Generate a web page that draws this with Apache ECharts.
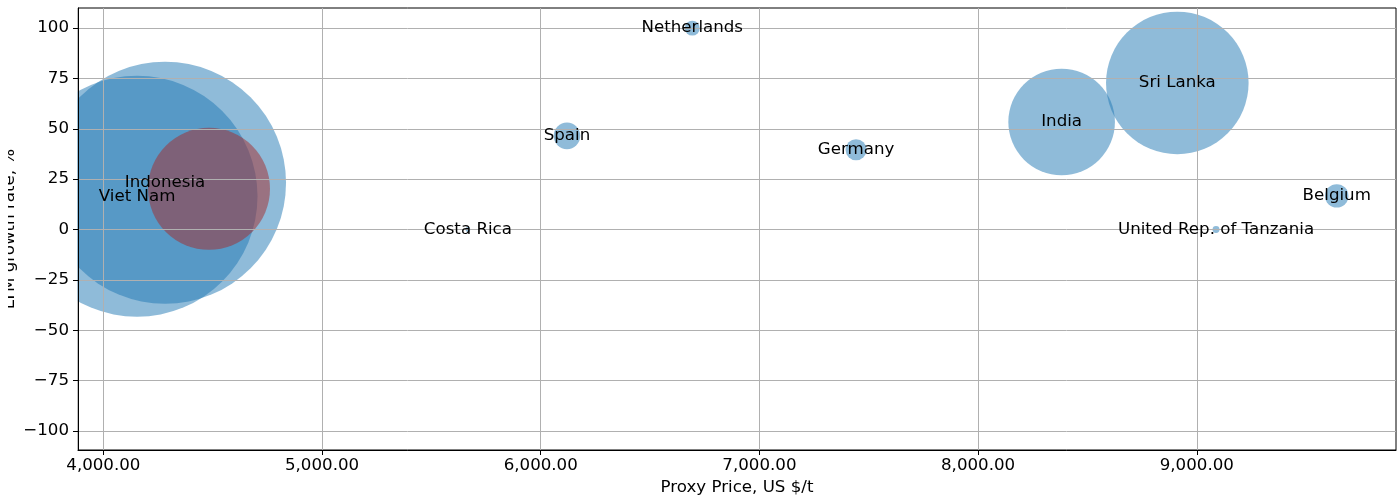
<!DOCTYPE html>
<html>
<head>
<meta charset="utf-8">
<script src="https://cdn.jsdelivr.net/npm/echarts@6/dist/echarts.min.js"></script>
<style>
html,body{margin:0;padding:0;background:#fff;}
#chart{width:1400px;height:497px;}
</style>
</head>
<body>
<div id="chart"></div>
<script>
// ---- data ----
const countries = ["Viet Nam","Indonesia","Costa Rica","Spain","Netherlands","Germany","India","Sri Lanka","United Rep. of Tanzania","Belgium"];
const proxyPrice = [4154, 4282, 5667, 6120, 6693, 7442, 8382, 8911, 9088, 9640];
const growthRate = [16.5, 23.2, 0, 46.5, 100, 39.6, 53.4, 72.8, 0, 16.7];
const bubbleArea = [14520, 14640, 6, 177, 56, 110, 2840, 5080, 12, 137];

const highlightPrice = [4483];
const highlightGrowth = [20.2];
const highlightArea = [3720];

const xTicks = [4000, 5000, 6000, 7000, 8000, 9000];
const yTicks = [-100, -75, -50, -25, 0, 25, 50, 75, 100];

const xName = "Proxy Price, US $/t";
const yName = "LTM growth rate, %";
// ---------------

const FONT = "DejaVu Sans";
const FS = 16.67;
const mainData = countries.map((c, i) => [proxyPrice[i], growthRate[i], bubbleArea[i], c]);
const hlData = highlightPrice.map((p, i) => [p, highlightGrowth[i], highlightArea[i]]);
const sizeFn = v => 2 * Math.sqrt(v[2]);

const chart = echarts.init(document.getElementById('chart'), null, {renderer: 'canvas'});
chart.setOption({
  animation: false,
  backgroundColor: '#fff',
  grid: {left: 78, right: 4, top: 8, bottom: 47, show: true, borderColor: '#000', borderWidth: 1,
         backgroundColor: 'transparent', containLabel: false, outerBoundsMode: 'none'},
  xAxis: {
    type: 'value', min: 3884, max: 9911, z: 20,
    name: xName, nameLocation: 'middle', nameGap: 29, nameMoveOverlap: false,
    nameTextStyle: {fontFamily: FONT, fontSize: FS, color: '#000'},
    axisLine: {show: true, onZero: false, lineStyle: {color: '#000', width: 1}},
    axisTick: {show: true, length: 5, customValues: xTicks, lineStyle: {color: '#000'}},
    axisLabel: {customValues: xTicks, margin: 7, fontFamily: FONT, fontSize: FS, color: '#000',
      formatter: v => v.toLocaleString('en-US', {minimumFractionDigits: 2, maximumFractionDigits: 2})},
    splitLine: {show: true, lineStyle: {color: '#b0b0b0', width: 1}}
  },
  yAxis: {
    type: 'value', min: -109.5, max: 110, z: 20,
    name: yName, nameLocation: 'middle', nameGap: 60, nameRotate: 90, nameMoveOverlap: false,
    nameTextStyle: {fontFamily: FONT, fontSize: FS, color: '#000'},
    axisLine: {show: true, onZero: false, lineStyle: {color: '#000', width: 1}},
    axisTick: {show: true, length: 5, customValues: yTicks, lineStyle: {color: '#000'}},
    axisLabel: {customValues: yTicks, margin: 9, fontFamily: FONT, fontSize: FS, color: '#000',
      formatter: v => String(v).replace('-', '\u2212')},
    splitLine: {show: true, lineStyle: {color: '#b0b0b0', width: 1}}
  },
  graphic: [
    {type: 'rect', shape: {x: 0, y: 0, width: 77.5, height: 497}, style: {fill: '#fff'}, z: 15, silent: true},
    {type: 'rect', shape: {x: 0, y: 100, width: 8, height: 300}, style: {fill: '#fff'}, z: 30, silent: true}
  ],
  series: [
    {
      type: 'scatter', name: 'countries', data: mainData, symbolSize: sizeFn, clip: false, z: 2,
      itemStyle: {color: '#1f77b4', opacity: 0.5},
      emphasis: {disabled: true}
    },
    {
      type: 'scatter', name: 'highlight', data: hlData, symbolSize: sizeFn, clip: false, z: 3,
      itemStyle: {color: '#a52a2a', opacity: 0.5},
      emphasis: {disabled: true}
    },
    {
      type: 'scatter', name: 'labels', data: mainData, symbolSize: 1, clip: false, z: 25,
      itemStyle: {color: 'rgba(0,0,0,0)', opacity: 1},
      label: {show: true, position: 'inside', formatter: p => p.data[3], fontFamily: FONT, fontSize: FS,
              color: '#000', opacity: 1, textBorderWidth: 0, textBorderColor: 'transparent'},
      emphasis: {disabled: true}
    }
  ]
});
</script>
</body>
</html>
